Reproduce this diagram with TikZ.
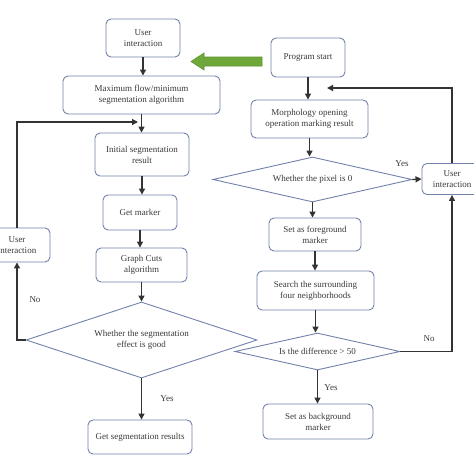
\documentclass[tikz,border=0pt]{standalone}
\usepackage{fontspec}
\setmainfont{Liberation Serif}
\usetikzlibrary{shapes.geometric,arrows.meta,calc}
\definecolor{boxc}{HTML}{7282AA}
\definecolor{linec}{HTML}{333333}
\definecolor{txtc}{HTML}{3A3A3A}
\definecolor{greenf}{HTML}{6FA83A}
\definecolor{greend}{HTML}{5E9430}
\begin{document}
\begin{tikzpicture}[x=1pt,y=-1pt,
  every node/.style={font=\fontsize{9}{11}\selectfont, text=txtc},
  box/.style={draw=boxc, line width=0.9pt, rounded corners=5pt, align=center, inner sep=0pt, fill=white},
  dia/.style={draw=boxc, line width=0.9pt, diamond, align=center, inner sep=0pt, shape aspect=3},
  arr/.style={draw=linec, line width=1.3pt, -{Triangle[length=6pt,width=6pt]}},
  ln/.style={draw=linec, line width=1.3pt},
  lbl/.style={inner sep=0pt}]
\useasboundingbox (0,0) rectangle (474,474);
\fill[white] (0,0) rectangle (474,474);
\begin{scope}
\clip (0,0) rectangle (474,474);
% left column
\node[box, minimum width=74pt, minimum height=38pt] (ui1) at (143,38) {User\\interaction};
\node[box, minimum width=157pt, minimum height=38pt] (maxflow) at (141.5,95) {Maximum flow/minimum\\segmentation algorithm};
\node[box, minimum width=94pt, minimum height=43pt] (init) at (142,154.5) {Initial segmentation\\result};
\node[box, minimum width=74pt, minimum height=35pt] (getm) at (140,212.5) {Get marker};
\node[box, minimum width=91pt, minimum height=34pt] (gc) at (141.5,265) {Graph Cuts\\algorithm};
\node[dia, minimum width=231pt, minimum height=76pt] (seg) at (141.5,340) {Whether the segmentation\\effect is good};
\node[box, minimum width=104pt, minimum height=34pt] (getseg) at (140,437) {Get segmentation results};
\node[box, minimum width=66pt, minimum height=34pt] (ui2) at (17,245) {User\\interaction};
% right column
\node[box, minimum width=74pt, minimum height=39pt] (ps) at (308,57.5) {Program start};
\node[box, minimum width=117pt, minimum height=38pt] (morph) at (309.5,119) {Morphology opening\\operation marking result};
\node[dia, minimum width=199pt, minimum height=45pt, shape aspect=4.4] (pix) at (312.5,179.5) {Whether the pixel is 0};
\node[box, minimum width=60pt, minimum height=31pt] (ui3) at (452,179) {User\\interaction};
\node[box, minimum width=92pt, minimum height=33pt] (fg) at (315,234.5) {Set as foreground\\marker};
\node[box, minimum width=117pt, minimum height=39pt] (search) at (315.5,290.5) {Search the surrounding\\four neighborhoods};
\node[dia, minimum width=165pt, minimum height=37pt, shape aspect=4.4] (diff) at (317.5,351.5) {Is the difference > 50};
\node[box, minimum width=110pt, minimum height=35pt] (bg) at (318,421.5) {Set as background\\marker};
% connectors left
\draw[arr] (ui1.south) -- (ui1.south |- maxflow.north);
\draw[arr] (maxflow.south) -- (maxflow.south |- init.north);
\draw[arr] (init.south) -- (init.south |- getm.north);
\draw[arr] (getm.south) -- (getm.south |- gc.north);
\draw[arr] (gc.south) -- (gc.south |- seg.north);
\draw[arr] (seg.south) -- (seg.south |- getseg.north);
\coordinate (lin) at (138,122);
\draw[arr] (ui2.north) |- (lin);
\draw[arr] (seg.west) -| (ui2.south);
\node[lbl] (no1) at (35,300) {No};
\node[lbl] (yes1) at (167,399) {Yes};
% connectors right
\draw[arr] (ps.south) -- (ps.south |- morph.north);
\draw[arr] (morph.south) -- (morph.south |- pix.north);
\draw[arr] (pix.south) -- (pix.south |- fg.north);
\draw[arr] (fg.south) -- (fg.south |- search.north);
\draw[arr] (search.south) -- (search.south |- diff.north);
\draw[arr] (diff.south) -- (diff.south |- bg.north);
\draw[arr] (pix.east) -- (ui3.west);
\draw[arr] (diff.east) -| (ui3.south);
\coordinate (rin) at (327,88);
\draw[arr] (ui3.north) |- (rin);
\node[lbl] (yes2) at (402,164) {Yes};
\node[lbl] (no2) at (429,339) {No};
\node[lbl] (yes3) at (331,388) {Yes};
% green arrow
\filldraw[fill=greenf, draw=greend, line width=0.6pt] (262,57) -- (204,57) -- (204,53) -- (191,61.5) -- (204,70) -- (204,66) -- (262,66) -- cycle;
\end{scope}
\end{tikzpicture}
\end{document}
